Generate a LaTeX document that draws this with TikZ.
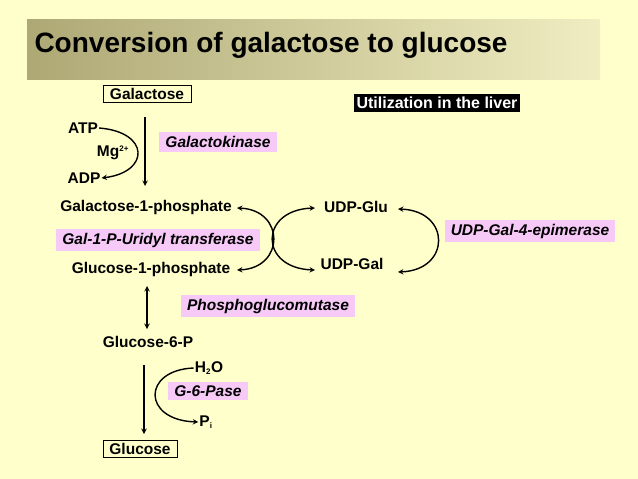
\documentclass[tikz,border=0pt]{standalone}
\usepackage{fontspec}
\setmainfont{Liberation Sans}
\usetikzlibrary{positioning}
\definecolor{cream}{HTML}{FFFFCC}
\definecolor{enzpink}{HTML}{F7C9F7}
\definecolor{barDark}{HTML}{ADA874}
\definecolor{barLight}{HTML}{F0EDC2}

\begin{document}
\begin{tikzpicture}[x=1pt, y=-1pt,
    met/.style = {font=\bfseries\fontsize{15.5}{18}\selectfont, inner sep=1pt},
    enz/.style = {fill=enzpink, font=\bfseries\itshape\fontsize{15.5}{18}\selectfont, inner xsep=6pt, inner ysep=4pt},
    rx/.style = {->, >=stealth, line width=1.4pt}]
        \fill[cream] (0,0) rectangle (638,479);
        \shade[left color=barDark, right color=barLight] (27,19) rectangle (600,79);
        \node[anchor=west, font=\bfseries\fontsize{28}{32}\selectfont] (title) at (31,45) {Conversion of galactose to glucose};

        \node[met, draw, inner sep=3pt, minimum width=88pt] (gal) at (147,94) {Galactose};
        \node[fill=black, text=white, font=\bfseries\fontsize{16}{18}\selectfont, inner sep=3pt] (liver) at (437,103) {Utilization in the liver};

        \node[met] (atp) at (83,128) {ATP};
        \node[met] (mg) at (113,153) {Mg\textsuperscript{\fontsize{8}{9}\selectfont 2+}};
        \node[met] (adp) at (84,178) {ADP};
        \node[enz] (galk) at (218,142) {Galactokinase};
        \coordinate (galtop) at (145,117);
        \coordinate (galbot) at (145,186);

        \node[met] (gal1p) at (146,207) {Galactose-1-phosphate};
        \node[met] (glc1p) at (151,269) {Glucose-1-phosphate};
        \node[met] (udpglu) at (356,207) {UDP-Glu};
        \node[met] (udpgal) at (352,264) {UDP-Gal};
        \node[enz] (uridyl) at (158,240) {Gal-1-P-Uridyl transferase};
        \node[enz] (epim) at (530,231) {UDP-Gal-4-epimerase};
        \coordinate (galin) at (237,208);
        \coordinate (glcin) at (237,270);
        \coordinate (gluin) at (315,208);
        \coordinate (udpin) at (315,270);
        \coordinate (gluout) at (398,209);
        \coordinate (udpout) at (398,272);

        \node[enz] (pgm) at (268,306) {Phosphoglucomutase};
        \coordinate (pgmtop) at (147,286);
        \coordinate (pgmbot) at (147,329);
        \node[met] (glc6p) at (148,342) {Glucose-6-P};
        \node[met] (h2o) at (209,368) {H\textsubscript{\fontsize{8}{9}\selectfont 2}O};
        \node[enz] (g6pase) at (208,391) {G-6-Pase};
        \node[met] (pi) at (206,422) {P\textsubscript{\fontsize{8}{9}\selectfont i}};
        \node[met, draw, inner sep=3pt, minimum width=74pt] (glc) at (140,449) {Glucose};
        \coordinate (g6top) at (144,365);
        \coordinate (g6bot) at (144,434);

        % galactokinase step
        \draw[rx] (galtop) -- (galbot);
        \draw[rx] (atp.east) .. controls (150,132) and (150,172) .. (adp.east);

        % transferase and epimerase
        \draw[rx, <->] (galin) .. controls (285,210) and (285,268) .. (glcin);
        \draw[rx, <->] (gluin) .. controls (259,210) and (259,268) .. (udpin);
        \draw[rx, <->] (gluout) .. controls (451,211) and (451,270) .. (udpout);

        % mutase and phosphatase
        \draw[rx, <->] (pgmtop) -- (pgmbot);
        \draw[rx] (g6top) -- (g6bot);
        \draw[rx] (h2o.west) .. controls (142,370) and (142,420) .. (pi.west);
      \end{tikzpicture}
\end{document}
